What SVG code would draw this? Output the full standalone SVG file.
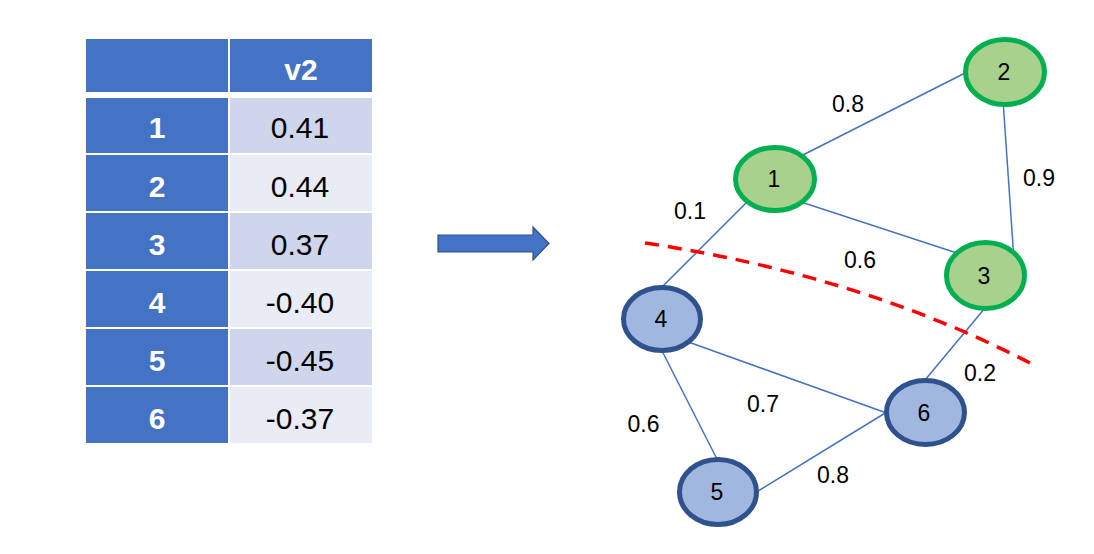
<svg xmlns="http://www.w3.org/2000/svg" width="1094" height="554" viewBox="0 0 1094 554">
<style>
.hd{fill:#4472C4}
.c1{fill:#CFD5EA}
.c2{fill:#E9EBF5}
.th{font-family:"Liberation Sans",Arial,sans-serif;font-weight:bold;font-size:30px;fill:#fff;text-anchor:middle}
.tv{font-family:"Liberation Sans",Arial,sans-serif;font-size:30px;fill:#000;text-anchor:middle}
.edge{stroke:#4472C4;stroke-width:1.5;fill:none}
.g{fill:#A9D18E;stroke:#00B050;stroke-width:5}
.b{fill:#A0B8E0;stroke:#2F528F;stroke-width:5}
.nl{font-family:"Liberation Sans",Arial,sans-serif;font-size:23px;fill:#000;text-anchor:middle}
.el{font-family:"Liberation Sans",Arial,sans-serif;font-size:23px;fill:#000;text-anchor:middle}
</style>
<rect width="1094" height="554" fill="#fff"/>
<g id="table">
<rect class="hd" x="86" y="39" width="142" height="53"/>
<rect class="hd" x="230" y="39" width="142" height="53"/>
<text class="th" x="301" y="80">v2</text>
<rect class="hd" x="86" y="98" width="142" height="55"/><rect class="c1" x="230" y="98" width="142" height="55"/>
<rect class="hd" x="86" y="155" width="142" height="56"/><rect class="c2" x="230" y="155" width="142" height="56"/>
<rect class="hd" x="86" y="213" width="142" height="56"/><rect class="c1" x="230" y="213" width="142" height="56"/>
<rect class="hd" x="86" y="271" width="142" height="56"/><rect class="c2" x="230" y="271" width="142" height="56"/>
<rect class="hd" x="86" y="329" width="142" height="56"/><rect class="c1" x="230" y="329" width="142" height="56"/>
<rect class="hd" x="86" y="387" width="142" height="56"/><rect class="c2" x="230" y="387" width="142" height="56"/>
<text class="th" x="157" y="138">1</text><text class="tv" x="300" y="138">0.41</text>
<text class="th" x="157" y="197">2</text><text class="tv" x="300" y="197">0.44</text>
<text class="th" x="157" y="255">3</text><text class="tv" x="300" y="255">0.37</text>
<text class="th" x="157" y="313">4</text><text class="tv" x="300" y="313">-0.40</text>
<text class="th" x="157" y="371">5</text><text class="tv" x="300" y="371">-0.45</text>
<text class="th" x="157" y="429">6</text><text class="tv" x="300" y="429">-0.37</text>
</g>
<g id="arrow">
<path d="M438,235 H533 V227 L549,243.5 L533,260 V252 H438 Z" fill="#4472C4" stroke="#2F528F" stroke-width="1.2"/>
</g>
<g id="connectors">
<line class="edge" x1="795" y1="159" x2="975" y2="68"/>
<line class="edge" x1="795" y1="200" x2="966" y2="256"/>
<line class="edge" x1="1003" y1="100" x2="1014" y2="260"/>
<line class="edge" x1="752" y1="197" x2="658" y2="291"/>
<line class="edge" x1="990" y1="302" x2="920" y2="386"/>
<line class="edge" x1="680" y1="339" x2="895" y2="416"/>
<line class="edge" x1="658" y1="343" x2="720" y2="465"/>
<line class="edge" x1="750" y1="496" x2="895" y2="407"/>
</g>
<path id="cut" d="M645,243 Q860,275 1030,363" fill="none" stroke="#FF0000" stroke-width="3.5" stroke-dasharray="14 9"/>
<g id="node1"><ellipse class="g" cx="775" cy="179" rx="39.5" ry="31.5"/><text class="nl" x="774" y="187">1</text></g>
<g id="node2"><ellipse class="g" cx="1005" cy="72" rx="39.5" ry="32.5"/><text class="nl" x="1004" y="80">2</text></g>
<g id="node3"><ellipse class="g" cx="985.5" cy="275.5" rx="39" ry="33"/><text class="nl" x="984" y="284">3</text></g>
<g id="node4"><ellipse class="b" cx="662" cy="319" rx="38.5" ry="31.5"/><text class="nl" x="661" y="327">4</text></g>
<g id="node5"><ellipse class="b" cx="718" cy="492" rx="38.5" ry="32.5"/><text class="nl" x="717" y="500">5</text></g>
<g id="node6"><ellipse class="b" cx="925.5" cy="412.5" rx="39" ry="32"/><text class="nl" x="924" y="421">6</text></g>
<g id="labels">
<text class="el" x="848" y="112">0.8</text>
<text class="el" x="1039" y="186">0.9</text>
<text class="el" x="690" y="219">0.1</text>
<text class="el" x="860" y="268">0.6</text>
<text class="el" x="980" y="381">0.2</text>
<text class="el" x="763" y="412">0.7</text>
<text class="el" x="643.5" y="432">0.6</text>
<text class="el" x="833" y="483">0.8</text>
</g>
</svg>
